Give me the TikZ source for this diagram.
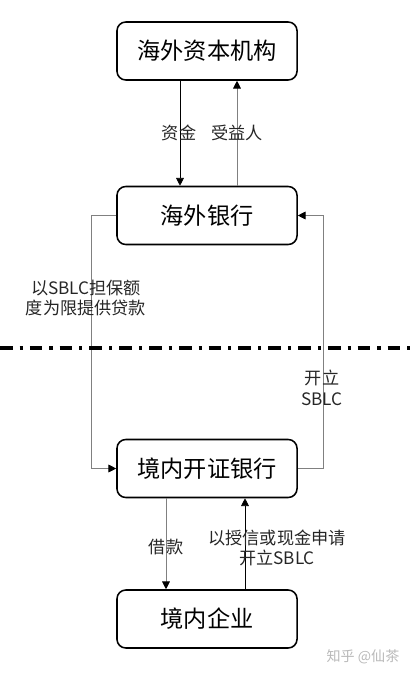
\documentclass[tikz,border=0pt]{standalone}
\usepackage{fontspec}
\newfontfamily\cjk{Noto Sans CJK SC}
\usetikzlibrary{calc}
\usetikzlibrary{arrows.meta}
\tikzset{
  orgbox/.style={draw, line width=1.1pt, rounded corners=0.22cm,
    minimum width=4.5cm, minimum height=1.45cm,
    font=\cjk\fontsize{16.5}{19}\selectfont},
  flowtag/.style={font=\cjk\fontsize{12.2}{14.5}\selectfont, align=center, inner sep=1pt, text=black!85},
  link/.style={line width=0.5pt, -{Triangle[length=5.5pt,width=5.5pt,color=black]}},
}
\begin{document}
\begin{tikzpicture}[x=0.025cm, y=-0.025cm]
				\useasboundingbox (0,0) rectangle (410,677);
				
				\node[orgbox] (zb) at (207,51) {海外资本机构};
				\node[orgbox] (hw) at (207,215.5) {海外银行};
				\node[orgbox] (kz) at (207,468.5) {境内开证银行};
				\node[orgbox] (qy) at (207,619) {境内企业};
				
				\draw[link] ($(zb.south)+(-27,0)$) -- ($(hw.north)+(-27,0)$);
				\draw[link, gray] ($(hw.north)+(30,0)$) -- ($(zb.south)+(30,0)$);
				\draw[link, gray] (hw.west) -- ++(-25,0) |- (kz.west);
				\draw[link, gray] (kz.east) -- ++(26,0) |- (hw.east);
				\draw[link, gray] ($(kz.south)+(-41,0)$) -- ($(qy.north)+(-41,0)$);
				\draw[link] ($(qy.north)+(38,0)$) -- ($(kz.south)+(38,0)$);
				
				\node[flowtag] (zj) at (179,133) {资金};
				\node[flowtag] (syr) at (237,133) {受益人};
				\node[flowtag] (dk) at (86,298) {以SBLC担保额\\度为限提供贷款};
				\node[flowtag] (kl) at (322,388) {开立\\SBLC};
				\node[flowtag] (jk) at (166,547) {借款};
				\node[flowtag] (sq) at (277,548) {以授信或现金申请\\开立SBLC};
				
				% border line
				\draw[line width=2.2pt, dash pattern=on 9pt off 5pt on 2.2pt off 5pt]
				  (0,348) coordinate (bl) -- (410,348) coordinate (br);
				
				\node[font=\cjk\fontsize{10}{12}\selectfont, text=gray!55] (wm) at (363,657) {知乎 @仙茶};
			\end{tikzpicture}
\end{document}
